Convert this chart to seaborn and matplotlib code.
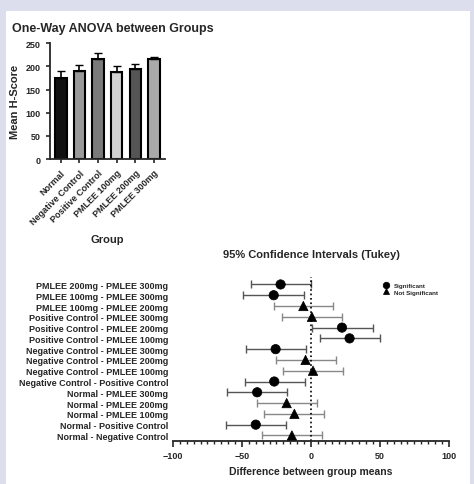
import matplotlib
matplotlib.use("Agg")
import matplotlib.pyplot as plt
import seaborn as sns
import pandas as pd
from matplotlib.patches import Rectangle

groups = ["Normal", "Negative Control", "Positive Control", "PMLEE 100mg", "PMLEE 200mg", "PMLEE 300mg"]
means = [175, 190, 216, 188, 194, 215]
sems = [14, 12, 13, 13, 10, 6]
bar_colors = ["#111111", "#9a9a9a", "#7a7a7a", "#d0d0d0", "#555555", "#aaaaaa"]

comparisons = ["PMLEE 200mg - PMLEE 300mg", "PMLEE 100mg - PMLEE 300mg", "PMLEE 100mg - PMLEE 200mg",
               "Positive Control - PMLEE 300mg", "Positive Control - PMLEE 200mg", "Positive Control - PMLEE 100mg",
               "Negative Control - PMLEE 300mg", "Negative Control - PMLEE 200mg", "Negative Control - PMLEE 100mg",
               "Negative Control - Positive Control", "Normal - PMLEE 300mg", "Normal - PMLEE 200mg",
               "Normal - PMLEE 100mg", "Normal - Positive Control", "Normal - Negative Control"]
diff = [-22, -27, -5.5, 0.7, 22.5, 28, -25.6, -3.9, 1.5, -26.6, -39, -17.6, -12, -40, -13.8]
lower = [-43.7, -49.5, -27, -21, 0.7, 6.5, -47, -25.6, -20, -48, -61, -39.4, -34, -61.5, -35.6]
upper = [0, -5, 16, 22.5, 44.7, 50, -3.6, 18, 23.4, -4.6, -17, 4.3, 9.7, -18, 8.2]
signif = ["Significant", "Significant", "Not Significant", "Not Significant", "Significant", "Significant",
          "Significant", "Not Significant", "Not Significant", "Significant", "Significant", "Not Significant",
          "Not Significant", "Significant", "Not Significant"]

sns.set_style("ticks")
plt.rcParams['font.family'] = ['Liberation Sans', 'DejaVu Sans']
plt.rcParams['font.weight'] = 'bold'

fig = plt.figure(figsize=(4.74, 4.85), dpi=100)
fig.patch.set_facecolor("#dcdded")
fig.add_artist(Rectangle((0.012, 0.0), 0.98, 0.975, transform=fig.transFigure, facecolor="white", edgecolor="none", zorder=0))

# Bar chart
ax1 = fig.add_axes([0.105, 0.670, 0.243, 0.239])
dfb = pd.DataFrame({"Group": groups, "Mean": means})
sns.barplot(data=dfb, x="Group", y="Mean", hue="Group", palette=bar_colors, legend=False,
            edgecolor="black", linewidth=1.5, width=0.62, ax=ax1)
ax1.errorbar(range(len(groups)), means, yerr=[[0]*6, sems], fmt="none", ecolor="black", capsize=3, elinewidth=1.2)
ax1.set_ylim(0, 250)
ax1.set_yticks([0, 50, 100, 150, 200, 250])
ax1.set_ylabel("Mean H-Score", fontsize=8, fontweight="bold")
ax1.set_xlabel("Group", fontsize=8, fontweight="bold", labelpad=6)
ax1.tick_params(labelsize=6.5, width=1.2, length=3)
plt.setp(ax1.get_xticklabels(), rotation=45, ha="right", rotation_mode="anchor")
sns.despine(ax=ax1)
for s in ax1.spines.values():
    s.set_linewidth(1.3)
fig.text(0.025, 0.935, "One-Way ANOVA between Groups", fontsize=9, fontweight="bold")

# CI chart
ax2 = fig.add_axes([0.365, 0.089, 0.582, 0.338])
dfc = pd.DataFrame({"Comparison": comparisons, "Diff": diff, "Lower": lower, "Upper": upper, "Sig": signif})
ypos = list(range(len(comparisons)))
for i in ypos:
    ax2.errorbar(diff[i], i, xerr=[[diff[i]-lower[i]], [upper[i]-diff[i]]], fmt="none",
                 ecolor="#555555" if signif[i] == "Significant" else "#888888", capsize=3, elinewidth=1)
sns.scatterplot(data=dfc, x="Diff", y="Comparison", style="Sig", markers={"Significant": "o", "Not Significant": "^"},
                style_order=["Significant", "Not Significant"], color="black", s=45, edgecolor="black", ax=ax2, zorder=3)
ax2.axvline(0, color="black", linestyle=":", linewidth=1.2)
ax2.set_xlim(-100, 100)
ax2.set_ylim(len(comparisons) - 0.5, -0.7)
ax2.set_xticks([-100, -50, 0, 50, 100])
ax2.set_xticks(range(-100, 101, 5), minor=True)
ax2.tick_params(axis="x", which="minor", length=2.5, width=1)
ax2.tick_params(axis="x", labelsize=6.5, width=1.2, length=4)
ax2.tick_params(axis="y", labelsize=6.5, length=0)
ax2.set_ylabel("")
ax2.set_xlabel("Difference between group means", fontsize=7.5, fontweight="bold")
ax2.set_title("95% Confidence Intervals (Tukey)", fontsize=8, fontweight="bold", pad=14)
sns.despine(ax=ax2, left=True)
ax2.spines["bottom"].set_linewidth(1.3)
leg = ax2.legend(loc="upper right", bbox_to_anchor=(0.98, 1.0), frameon=False, fontsize=4.5, title=None,
                 handletextpad=0.2, labelspacing=0.2, markerscale=0.7)
plt.savefig("out.png", dpi=100)
